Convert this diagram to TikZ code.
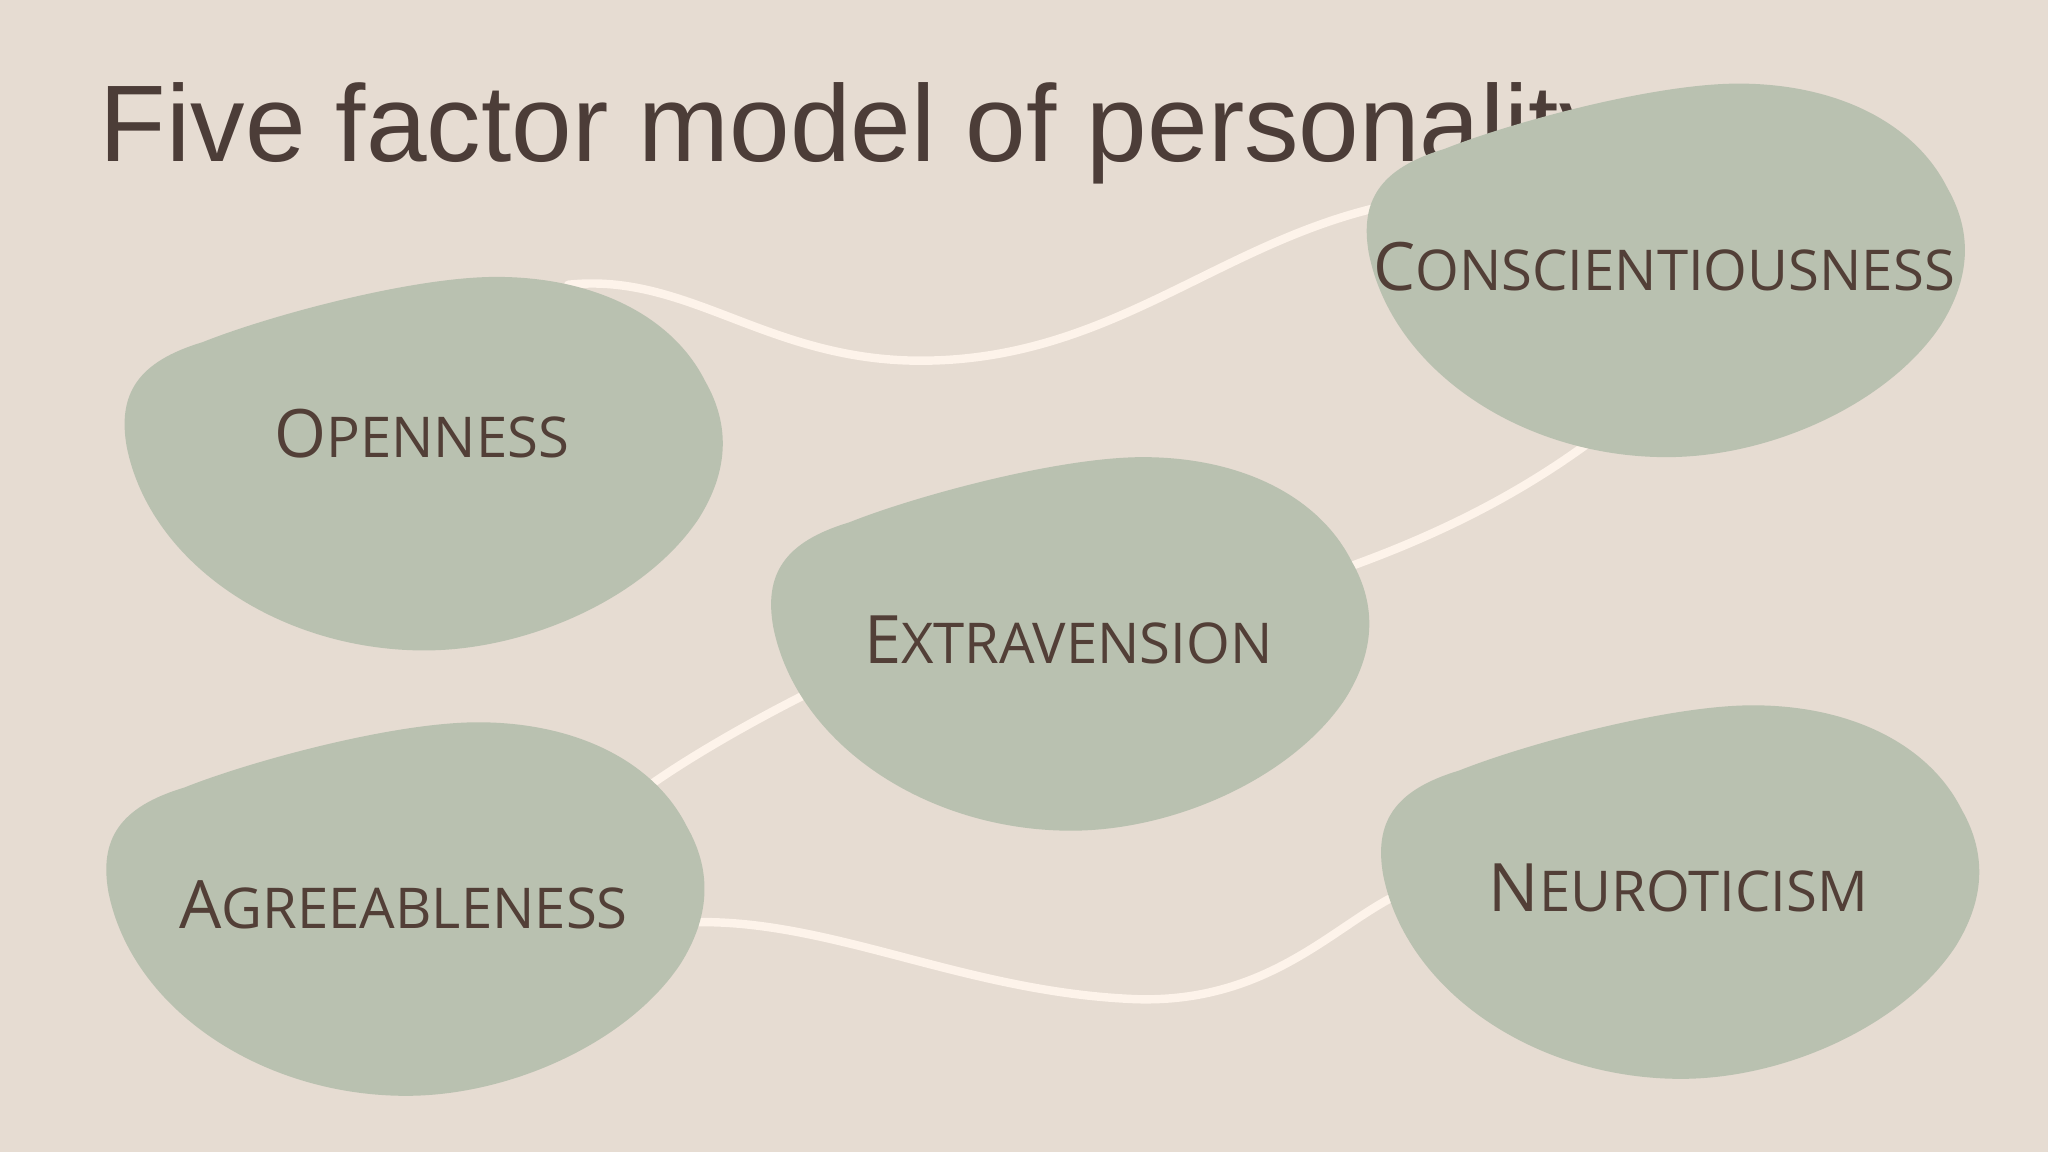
\documentclass[tikz,border=0pt]{standalone}
\usepackage{fontspec}
\setmainfont{Open Sans}
\newfontfamily\titlefont{Liberation Sans}
\definecolor{bg}{HTML}{E6DCD2}
\definecolor{blobc}{HTML}{B9C1B0}
\definecolor{txt}{HTML}{523F37}
\definecolor{ttl}{HTML}{4C3D38}
\definecolor{wire}{HTML}{FDF3EA}
\tikzset{
  wirestyle/.style={draw=wire,line width=2.4pt,line cap=round},
  lbl/.style={text=txt,inner sep=0pt},
  pics/blob/.style={code={
    \fill[blobc] (285,0) .. controls (360,0) and (420,30) .. (445,80)
      .. controls (465,115) and (462,150) .. (440,185)
      .. controls (400,245) and (310,286) .. (230,286)
      .. controls (120,286) and (20,220) .. (2,130)
      .. controls (-5,90) and (10,65) .. (60,50)
      .. controls (110,30) and (220,0) .. (285,0) -- cycle;}}
}
\newcommand{\capword}[2]{{\fontsize{19}{19}\selectfont #1}{\fontsize{16}{16}\selectfont #2}}
\begin{document}
\begin{tikzpicture}[x=0.01306cm,y=-0.01306cm]
\fill[bg] (0,0) rectangle (1568,882);
\useasboundingbox (0,0) rectangle (1568,882);
\node[anchor=base west,inner sep=0pt,text=ttl] (title) at (76,124) {\titlefont\fontsize{31}{31}\selectfont Five factor model of personality};
% connectors
\coordinate (c1a) at (435,218); \coordinate (c1m) at (715,276); \coordinate (c1b) at (1050,160);
\coordinate (c2a) at (1030,435); \coordinate (c2b) at (1215,340);
\coordinate (c3a) at (495,603); \coordinate (c3b) at (620,530);
\coordinate (c4a) at (535,706); \coordinate (c4m) at (870,765); \coordinate (c4b) at (1068,686);
\draw[wirestyle] (c1a) .. controls (530,208) and (590,280) .. (c1m) .. controls (850,272) and (930,190) .. (c1b);
\draw[wirestyle] (c2a) .. controls (1100,410) and (1160,380) .. (c2b);
\draw[wirestyle] (c3a) .. controls (530,578) and (580,550) .. (c3b);
\draw[wirestyle] (c4a) .. controls (640,705) and (740,760) .. (c4m) .. controls (970,768) and (1020,710) .. (c4b);
% blobs
\pic at (95,212) {blob};
\pic at (1046,64) {blob};
\pic at (590,350) {blob};
\pic at (81,553) {blob};
\pic[xscale=1.0] at (1057,540) {blob};
\node[lbl] (open) at (323,332) {\capword{O}{PENNESS}};
\node[lbl] (cons) at (1274,204) {\capword{C}{ONSCIENTIOUSNESS}};
\node[lbl] (extr) at (818,490) {\capword{E}{XTRAVENSION}};
\node[lbl] (agre) at (309,693) {\capword{A}{GREEABLENESS}};
\node[lbl] (neur) at (1285,680) {\capword{N}{EUROTICISM}};
\end{tikzpicture}
\end{document}
